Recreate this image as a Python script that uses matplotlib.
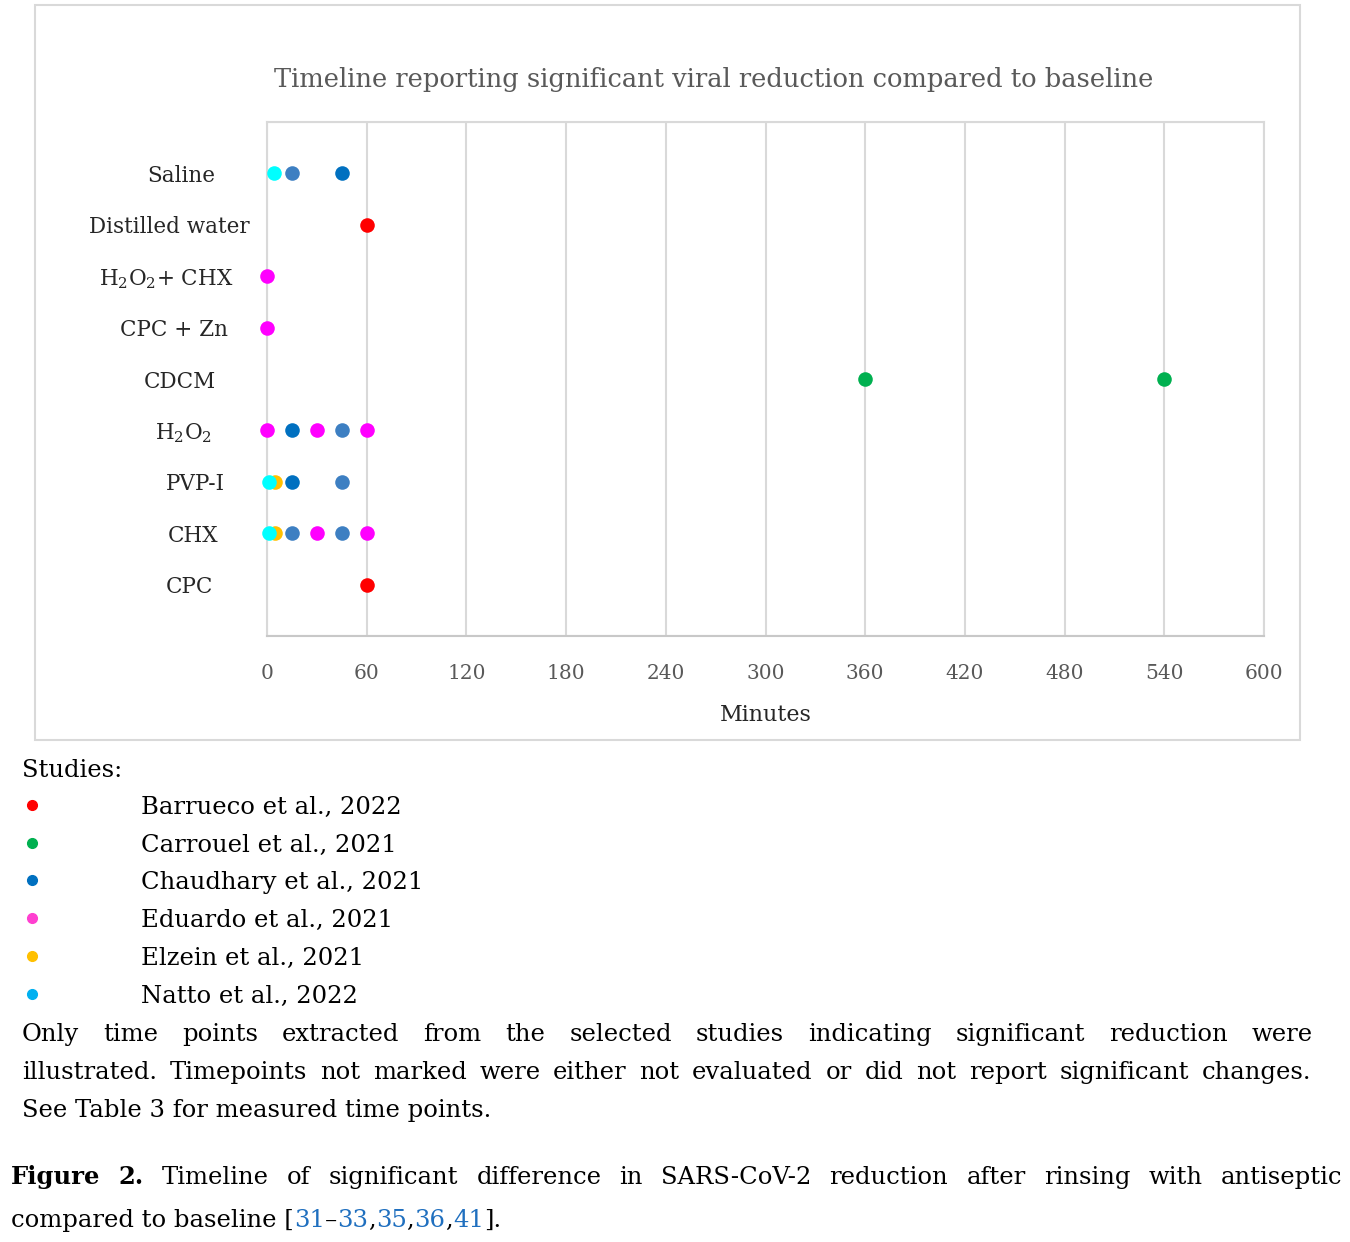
import matplotlib
matplotlib.use("Agg")
import matplotlib.pyplot as plt
import matplotlib.transforms as mtransforms
from matplotlib.patches import Rectangle

plt.rcParams['font.family'] = ['DejaVu Serif']
plt.rcParams['mathtext.fontset'] = 'dejavuserif'

# rows, bottom to top
categories = ['CPC', 'CHX', 'PVP-I', 'H$_2$O$_2$', 'CDCM', 'CPC + Zn',
              'H$_2$O$_2$+ CHX', 'Distilled water', 'Saline']
x_ticks = [0, 60, 120, 180, 240, 300, 360, 420, 480, 540, 600]

# points per study: (row label, minutes)
barrueco = [('Distilled water', 60), ('CPC', 60)]
carrouel = [('CDCM', 360), ('CDCM', 540)]
chaudhary_a = [('Saline', 45), ('H$_2$O$_2$', 15), ('PVP-I', 15)]
chaudhary_b = [('Saline', 15), ('H$_2$O$_2$', 45), ('PVP-I', 45), ('CHX', 15), ('CHX', 45)]
eduardo = [('H$_2$O$_2$+ CHX', 0), ('CPC + Zn', 0), ('H$_2$O$_2$', 0), ('H$_2$O$_2$', 30),
           ('H$_2$O$_2$', 60), ('CHX', 30), ('CHX', 60)]
elzein = [('PVP-I', 5), ('CHX', 5)]
natto = [('Saline', 4), ('PVP-I', 1), ('CHX', 1)]

legend_names = ['Barrueco et al., 2022', 'Carrouel et al., 2021', 'Chaudhary et al., 2021',
                'Eduardo et al., 2021', 'Elzein et al., 2021', 'Natto et al., 2022']
legend_colors = ['#ff0000', '#00b050', '#0070c0', '#ff3fd0', '#ffc000', '#00b0f0']

W, H = 1350, 1242
fig = plt.figure(figsize=(W / 100, H / 100), dpi=100)

# main chart
ax = fig.add_axes([267 / W, 1 - 636 / H, 997 / W, 514 / H])
grid_c = '#d9d9d9'
plot_sets = [(barrueco, '#ff0000'), (carrouel, '#00b050'), (chaudhary_a, '#0070c0'),
             (chaudhary_b, '#3d7fc2'), (eduardo, '#ff00ff'), (elzein, '#ffc000'),
             (natto, '#00ffff')]
for pts, col in plot_sets:
    xs = [m for _, m in pts]
    ys = [categories.index(c) + 1 for c, _ in pts]
    ax.scatter(xs, ys, s=110, color=col, zorder=3, linewidths=0, clip_on=False)

ax.set_xlim(0, 600)
ax.set_ylim(0, 10)
ax.set_xticks(x_ticks)
ax.set_xticklabels([str(t) for t in x_ticks], color='#595959', fontsize=14.5)
ax.set_yticks(range(1, 10))
ax.set_yticklabels(categories, fontsize=15.5, color='#262626', ha='center')
ax.set_yticks(range(0, 11), minor=True)
ax.tick_params(axis='both', which='both', length=0)
ax.tick_params(axis='x', pad=20)
ax.tick_params(axis='y', pad=60)
ax.grid(True, which='minor', axis='y', color=grid_c, lw=1.5)
ax.grid(True, which='major', axis='x', color=grid_c, lw=1.5)
for s in ax.spines.values():
    s.set_color(grid_c)
    s.set_linewidth(1.5)
ax.spines['bottom'].set_color('#c8c8c8')
ax.set_xlabel('Minutes', fontsize=16, color='#262626', labelpad=15)

# the row labels in the original are not quite lined up; nudge them (px)
nudge = [6, 9, 12, 0, -4, -10, -17, -14, -2]
for lab, dx in zip(ax.get_yticklabels(), nudge):
    lab.set_transform(lab.get_transform() + mtransforms.ScaledTranslation(dx / 100, 0, fig.dpi_scale_trans))

# overlay in pixel coords for the frame and the text below
ov = fig.add_axes([0, 0, 1, 1])
ov.set_xlim(0, W)
ov.set_ylim(H, 0)
ov.axis('off')
ov.patch.set_visible(False)
ov.add_patch(Rectangle((35, 5), 1265, 735, fill=False, ec='#d9d9d9', lw=1.5))
ov.text(714, 79, 'Timeline reporting significant viral reduction compared to baseline',
        ha='center', va='center', fontsize=18.5, color='#595959')

fig.canvas.draw()
rend = fig.canvas.get_renderer()
fs = 17.5


def width(t):
    return t.get_window_extent(rend).width


def runs(x, y, parts):
    # parts: (text, colour, weight), laid one after another
    for txt, col, wt in parts:
        t = ov.text(x, y, txt, fontsize=fs, color=col, fontweight=wt, va='baseline')
        x += width(t)


def justify(x0, x1, y, words):
    ts = [ov.text(0, y, w, fontsize=fs, color='black', fontweight=wt, va='baseline')
          for w, wt in words]
    total = sum(width(t) for t in ts)
    gap = (x1 - x0 - total) / (len(ts) - 1)
    x = x0
    for t in ts:
        t.set_x(x)
        x += width(t) + gap


ov.text(22, 777, 'Studies:', fontsize=fs, va='baseline')
for i, (name, col) in enumerate(zip(legend_names, legend_colors)):
    yc = 805 + i * 37.7
    ov.plot([32], [yc], 'o', ms=7, color=col)
    ov.text(141, yc + 9, name, fontsize=fs, va='baseline')

line1 = 'Only time points extracted from the selected studies indicating significant reduction were'
justify(22, 1313, 1041, [(w, 'normal') for w in line1.split()])
line2 = 'illustrated. Timepoints not marked were either not evaluated or did not report significant changes.'
justify(22, 1311, 1079, [(w, 'normal') for w in line2.split()])
ov.text(22, 1117, 'See Table 3 for measured time points.', fontsize=fs, va='baseline')

cap1 = 'Timeline of significant difference in SARS-CoV-2 reduction after rinsing with antiseptic'
justify(11, 1342, 1184, [('Figure', 'bold'), ('2.', 'bold')] + [(w, 'normal') for w in cap1.split()])
blue = '#1f6fbf'
runs(11, 1227, [('compared to baseline [', 'black', 'normal'), ('31', blue, 'normal'),
                ('\u2013', 'black', 'normal'), ('33', blue, 'normal'), (',', 'black', 'normal'),
                ('35', blue, 'normal'), (',', 'black', 'normal'), ('36', blue, 'normal'),
                (',', 'black', 'normal'), ('41', blue, 'normal'), ('].', 'black', 'normal')])

fig.savefig('out.png', dpi=100)
